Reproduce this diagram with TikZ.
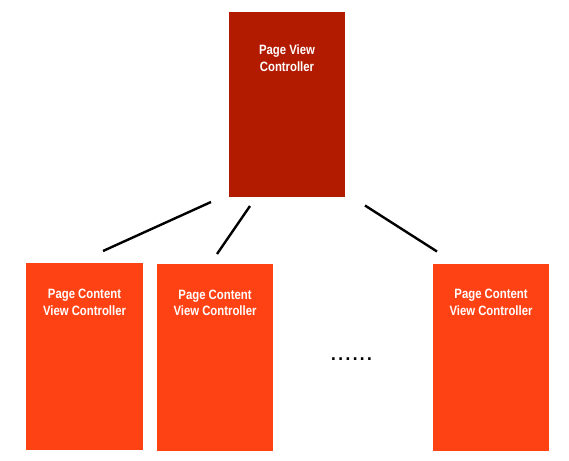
\documentclass[tikz,border=0pt]{standalone}
\usepackage{fontspec}
\setmainfont{Liberation Sans}
\newfontfamily\condbold[FakeStretch=0.84]{Liberation Sans Bold}
\definecolor{pvcred}{RGB}{178,27,0}
\definecolor{pccorange}{RGB}{255,66,20}
\begin{document}
\begin{tikzpicture}[x=1pt,y=-1pt,
  box/.style={inner sep=0pt,outer sep=0pt,draw=none},
  topbox/.style={box,fill=pvcred,minimum width=116pt,minimum height=185pt},
  pagebox/.style={box,fill=pccorange,minimum width=116.5pt,minimum height=187pt},
  boxtext/.style={text=white,font=\condbold\fontsize{13.5}{16.5}\selectfont,align=center,inner sep=0pt,anchor=north},
  link/.style={line width=2.4pt,black}]
\useasboundingbox (0,0) rectangle (569,460);
\node[topbox] (pvc) at (287,104.5) {};
\node[boxtext] (pvctext) at (287,45) {Page View\\Controller};
\node[pagebox] (pc1) at (84.5,356.5) {};
\node[pagebox] (pc2) at (215,357) {};
\node[pagebox] (pc3) at (491,357) {};
\node[boxtext] (pc1text) at (84.5,289) {Page Content\\View Controller};
\node[boxtext] (pc2text) at (215,289.5) {Page Content\\View Controller};
\node[boxtext] (pc3text) at (491,289) {Page Content\\View Controller};
\node[inner sep=0pt,anchor=base,font=\fontsize{26}{30}\selectfont] (dots) at (351.5,360.5) {......};
\coordinate (a1) at (211,202);
\coordinate (b1) at (103,251);
\coordinate (a2) at (250,206);
\coordinate (b2) at (217,254);
\coordinate (a3) at (365,205.5);
\coordinate (b3) at (437,251.5);
\draw[link] (a1) -- (b1);
\draw[link] (a2) -- (b2);
\draw[link] (a3) -- (b3);
\end{tikzpicture}
\end{document}
